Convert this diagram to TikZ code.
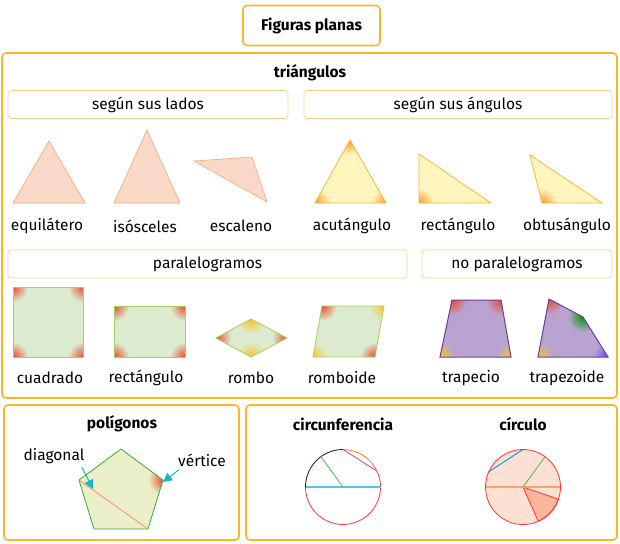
\documentclass[tikz,border=0pt]{standalone}
\usepackage{fontspec}
\setmainfont{Fira Sans}
\usetikzlibrary{arrows.meta,calc}
\definecolor{gold}{HTML}{F9B625}
\definecolor{lgold}{HTML}{F5D28A}
\definecolor{tfill}{HTML}{FBD9C9}
\definecolor{tdraw}{HTML}{F5A46E}
\definecolor{yfill}{HTML}{FFF6BF}
\definecolor{ydraw}{HTML}{F7B733}
\definecolor{gfill}{HTML}{DCEBD0}
\definecolor{gdraw}{HTML}{A5D05A}
\definecolor{pfill}{HTML}{B9A3D0}
\definecolor{pdraw}{HTML}{6A3D9A}
\definecolor{spr}{HTML}{E84A2A}
\definecolor{spy}{HTML}{F7C52A}
\definecolor{spo}{HTML}{F39A2A}
\definecolor{cy}{HTML}{1AB3C8}
\definecolor{peach}{HTML}{FCE0D4}
\begin{document}
\begin{tikzpicture}[x=1pt,y=-1pt,
 bigbox/.style={draw=gold,line width=1.6pt,rounded corners=4pt},
 subbox/.style={draw=lgold,line width=0.8pt,rounded corners=3pt,minimum height=28pt,font=\fontsize{15.5}{17}\selectfont},
 head/.style={font=\bfseries\fontsize{15.5}{17}\selectfont},
 lab/.style={font=\fontsize{15.5}{17}\selectfont},
 tri/.style={fill=tfill,draw=tdraw,line width=0.6pt},
 ytri/.style={fill=yfill,draw=ydraw,line width=0.8pt},
 gq/.style={fill=gfill,draw=gdraw,line width=0.8pt},
 pq/.style={fill=pfill,draw=pdraw,line width=1pt},
 arr/.style={draw=cy,line width=1pt,-{Triangle[length=9pt,width=9pt]}}]
\newcommand\spot[4]{\shade[inner color=#3,outer color=#4] (#1,#2) circle (15);}
\useasboundingbox (0,0) rectangle (620,543);
% title
\node[bigbox,head,minimum width=137pt,minimum height=40pt] (title) at (311.5,25.5) {Figuras planas};
\draw[bigbox] (2,53) rectangle (617,398);
\node[head] (tri) at (310,73) {triángulos};
\node[subbox,minimum width=280pt] (lados) at (148,104.5) {según sus lados};
\node[subbox,minimum width=308pt] (angulos) at (458,104.5) {según sus ángulos};
% triangles
\draw[tri] (13,203) -- (49,141) -- (85,203) -- cycle;
\draw[tri] (114,203) -- (147,130) -- (180,203) -- cycle;
\draw[tri] (194,161) -- (252,157) -- (267,202) -- cycle;
\begin{scope}
 \clip (315,203) -- (350,140) -- (386,203) -- cycle;
 \fill[yfill] (315,140) rectangle (386,203);
 \spot{350}{140}{spo}{yfill}\spot{315}{203}{spo}{yfill}\spot{386}{203}{spo}{yfill}
\end{scope}
\draw[ytri,fill=none] (315,203) -- (350,140) -- (386,203) -- cycle;
\begin{scope}
 \clip (419,154) -- (419,203) -- (491,203) -- cycle;
 \fill[yfill] (419,154) rectangle (491,203);
 \spot{419}{203}{spo}{yfill}
\end{scope}
\draw[ytri,fill=none] (419,154) -- (419,203) -- (491,203) -- cycle;
\begin{scope}
 \clip (530,155) -- (542,203) -- (602,203) -- cycle;
 \fill[yfill] (530,155) rectangle (602,203);
 \spot{542}{203}{spo}{yfill}
\end{scope}
\draw[ytri,fill=none] (530,155) -- (542,203) -- (602,203) -- cycle;
\node[lab] (l1) at (47,226) {equilátero};
\node[lab] (l2) at (145,226) {isósceles};
\node[lab] (l3) at (241,226) {escaleno};
\node[lab] (l4) at (352,226) {acutángulo};
\node[lab] (l5) at (458,226) {rectángulo};
\node[lab] (l6) at (567,226) {obtusángulo};
\node[subbox,minimum width=399pt] (par) at (207.5,264) {paralelogramos};
\node[subbox,minimum width=190pt] (npar) at (517,264) {no paralelogramos};
% quads
\begin{scope}
 \clip (13,287) rectangle (83,357);
 \fill[gfill] (13,287) rectangle (83,357);
 \spot{13}{287}{spr}{gfill}\spot{83}{287}{spr}{gfill}\spot{13}{357}{spr}{gfill}\spot{83}{357}{spr}{gfill}
\end{scope}
\draw[gq,fill=none] (13,287) rectangle (83,357);
\begin{scope}
 \clip (114,306) rectangle (185,357);
 \fill[gfill] (114,306) rectangle (185,357);
 \spot{114}{306}{spr}{gfill}\spot{185}{306}{spr}{gfill}\spot{114}{357}{spr}{gfill}\spot{185}{357}{spr}{gfill}
\end{scope}
\draw[gq,fill=none] (114,306) rectangle (185,357);
\begin{scope}
 \clip (216,338) -- (251,319) -- (287,338) -- (251,357) -- cycle;
 \fill[gfill] (216,319) rectangle (287,357);
 \spot{216}{338}{spr}{gfill}\spot{287}{338}{spr}{gfill}\spot{251}{319}{spy}{gfill}\spot{251}{357}{spy}{gfill}
\end{scope}
\draw[gq,fill=none] (216,338) -- (251,319) -- (287,338) -- (251,357) -- cycle;
\begin{scope}
 \clip (313,357) -- (322,306) -- (384,306) -- (375,357) -- cycle;
 \fill[gfill] (313,306) rectangle (384,357);
 \spot{322}{306}{spr}{gfill}\spot{375}{357}{spr}{gfill}\spot{384}{306}{spy}{gfill}\spot{313}{357}{spy}{gfill}
\end{scope}
\draw[gq,fill=none] (313,357) -- (322,306) -- (384,306) -- (375,357) -- cycle;
\begin{scope}
 \clip (440,357) -- (452,300) -- (501,300) -- (511,357) -- cycle;
 \fill[pfill] (440,300) rectangle (511,357);
 \spot{452}{300}{spr}{pfill}\spot{501}{300}{spr}{pfill}\spot{440}{357}{spy}{pfill}\spot{511}{357}{spy}{pfill}
\end{scope}
\draw[pq,fill=none] (440,357) -- (452,300) -- (501,300) -- (511,357) -- cycle;
\begin{scope}
 \clip (538,357) -- (549,299) -- (583,317) -- (608,357) -- cycle;
 \fill[pfill] (538,299) rectangle (608,357);
 \spot{549}{299}{spr}{pfill}\spot{583}{317}{green!60!black}{pfill}\spot{538}{357}{spy}{pfill}\spot{608}{357}{blue!70}{pfill}
\end{scope}
\draw[pq,fill=none] (538,357) -- (549,299) -- (583,317) -- (608,357) -- cycle;
\node[lab] (q1) at (50,378) {cuadrado};
\node[lab] (q2) at (146,378) {rectángulo};
\node[lab] (q3) at (251,378) {rombo};
\node[lab] (q4) at (342,378) {romboide};
\node[lab] (q5) at (471,378) {trapecio};
\node[lab] (q6) at (567,378) {trapezoide};
% bottom left
\draw[bigbox] (4,405) rectangle (239,540);
\node[head] (pol) at (122,424) {polígonos};
\begin{scope}
 \clip (121,449) -- (163,480) -- (148,529) -- (94,529) -- (79,480) -- cycle;
 \fill[gfill!60!yfill] (79,449) rectangle (163,529);
 \spot{163}{480}{spr}{gfill!60!yfill}
\end{scope}
\draw[green!60!black!80,line width=0.8pt] (121,449) -- (163,480) -- (148,529) -- (94,529) -- (79,480) -- cycle;
\coordinate (pA) at (79,480); \coordinate (pD) at (148,529);
\draw[tdraw!90!red,line width=0.8pt] (pA) -- (pD);
\node[lab] (diag) at (54,456) {diagonal};
\node[lab] (vert) at (202,460) {vértice};
\coordinate (tD) at (93,489); \coordinate (tV) at (163,482);
\draw[arr] (diag.south east) ++(-6,0) -- (tD);
\draw[arr] (vert.south west) ++(4,0) -- (tV);
% bottom right
\draw[bigbox] (246,405) rectangle (617,540);
\node[head] (circ) at (343,424) {circunferencia};
\node[head] (circulo) at (523,424) {círculo};
\coordinate (c1) at (343,487);
\draw[red!80,line width=0.8pt] ($(c1)+(-25:37.5)$) arc[start angle=-25,end angle=180,radius=37.5];
\draw[black!70!purple,line width=0.8pt] (c1) ++(-37.5,0) arc[start angle=180,end angle=270,radius=37.5];
\draw[orange!70!brown,line width=0.8pt] (c1) ++(0,-37.5) arc[start angle=270,end angle=335,radius=37.5];
\draw[cyan!70,line width=1.4pt] (c1) ++(-37.5,0) -- ++(75,0);
\draw[green!60!black!70,line width=0.8pt] (c1) -- ++(-126:37.5);
\draw[magenta!80,line width=0.8pt] (c1) ++(0,-37.5) -- ($(c1)+(-25:37.5)$);
\coordinate (c2) at (523,487);
\fill[peach] (c2) circle (37.5);
\filldraw[fill=tdraw!80!red!60,draw=red!80,line width=0.8pt] (c2) -- ++(19:37.5) arc[start angle=19,end angle=66,radius=37.5] -- cycle;
\draw[tdraw,line width=1.6pt] (c2) ++(-37.5,0) -- ++(75,0);
\draw[green!60!black!70,line width=0.8pt] (c2) -- ++(-54:37.5);
\draw[cyan!80!blue,line width=0.9pt] ($(c2)+(-156:37.5)$) -- ($(c2)+(0,-37.5)$);
\draw[red!80,line width=0.8pt] (c2) circle (37.5);
\end{tikzpicture}
\end{document}
